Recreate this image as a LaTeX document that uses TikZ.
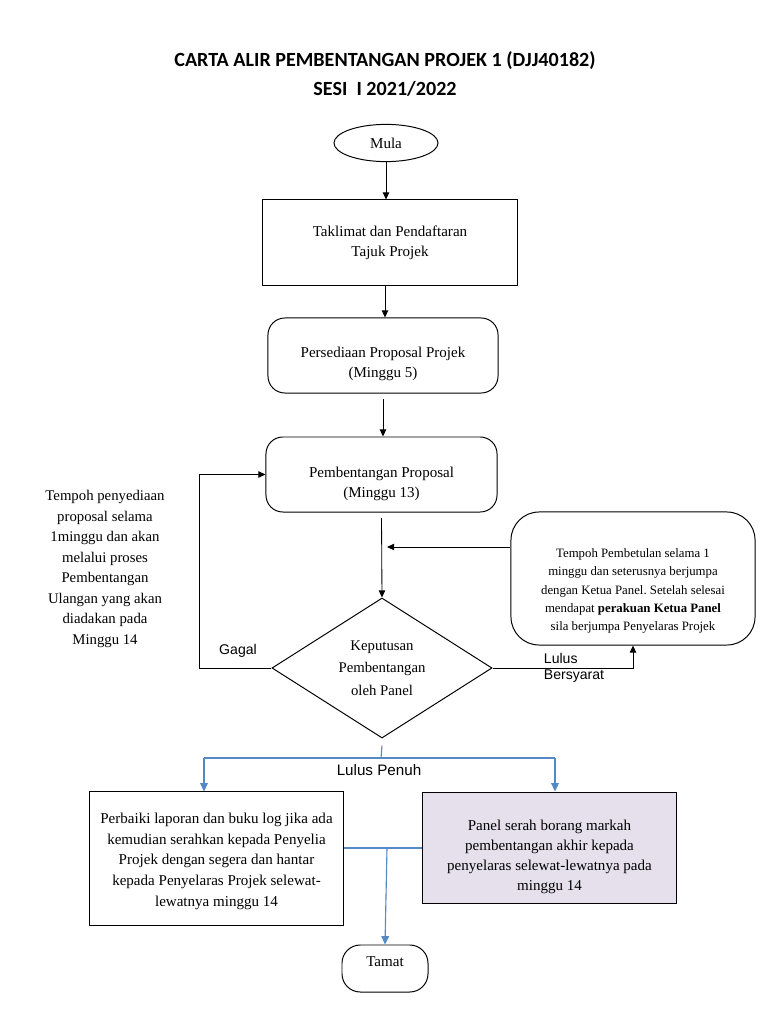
\documentclass[tikz,border=0pt]{standalone}
\usepackage{fontspec}
\setmainfont{Liberation Serif}
\newfontfamily\labelfont{Liberation Sans}
\newfontfamily\titlefont{Carlito}
\usetikzlibrary{shapes.geometric,arrows.meta}
\frenchspacing

\definecolor{flowblue}{RGB}{84,136,198}
\definecolor{lavender}{RGB}{229,224,236}

\tikzset{
    txt/.style={align=center, font=\fontsize{10.7}{14}\selectfont},
    plainbox/.style={draw, txt, line width=0.7pt},
    roundbox/.style={plainbox, rounded corners=12pt},
    link/.style={line width=0.6pt, -{Triangle[length=5pt,width=4.5pt]}},
    bluelink/.style={link, draw=flowblue, fill=flowblue, line width=0.8pt, -{Triangle[length=6pt,width=5.5pt]}},
    tag/.style={font=\labelfont\fontsize{10}{12}\selectfont}
}

\begin{document}
\begin{tikzpicture}[x=0.025cm, y=-0.025cm]
    \useasboundingbox (0,0) rectangle (768,1024);

    % Draw the title
    \node[font=\titlefont\bfseries\fontsize{14.3}{20}\selectfont, align=center] (title) at (385,74)
        {CARTA ALIR PEMBENTANGAN PROJEK 1 (DJJ40182)\\SESI\ \ I 2021/2022};

    % Draw main column
    \node[draw, ellipse, line width=0.7pt, minimum width=2.6cm, minimum height=0.93cm, txt] (mula) at (386,143) {Mula};
    \node[plainbox, minimum width=6.35cm, minimum height=2.125cm] (taklimat) at (390,242.5)
        {Taklimat dan Pendaftaran\\Tajuk Projek};
    \node[roundbox, minimum width=5.75cm, minimum height=1.875cm,
          label={[txt, yshift=-6pt]center:{Persediaan Proposal Projek\\(Minggu 5)}}] (persediaan) at (383,355.5) {};
    \node[roundbox, minimum width=5.775cm, minimum height=1.875cm,
          label={[txt, yshift=-6.5pt]center:{Pembentangan Proposal\\(Minggu 13)}}] (pembentangan) at (381.5,474.5) {};
    \node[draw, diamond, aspect=1.57, inner sep=0pt, line width=0.7pt, minimum width=5.5cm, minimum height=3.5cm,
          txt, font=\fontsize{10.5}{16}\selectfont] (keputusan) at (382,668)
        {Keputusan\\Pembentangan\\oleh Panel};

    % Draw side notes
    \node[txt, font=\fontsize{10.5}{14.6}\selectfont] (ulangan) at (105,569)
        {Tempoh penyediaan\\proposal selama\\1minggu dan akan\\melalui proses\\Pembentangan\\Ulangan yang akan\\diadakan pada\\Minggu 14};
    \node[roundbox, rounded corners=20pt, minimum width=6.1cm, minimum height=3.325cm,
          label={[txt, font=\fontsize{9.1}{13}\selectfont, yshift=-9pt]center:{Tempoh Pembetulan selama 1\\minggu dan seterusnya berjumpa\\dengan Ketua Panel. Setelah selesai\\mendapat \textbf{perakuan Ketua Panel}\\sila berjumpa Penyelaras Projek}}]
          (pembetulan) at (633,578.5) {};

    % Draw bottom boxes
    \node[plainbox, minimum width=6.325cm, minimum height=3.325cm,
          label={[txt, font=\fontsize{10.7}{14.8}\selectfont, yshift=-2pt]center:{Perbaiki laporan dan buku log jika ada\\kemudian serahkan kepada Penyelia\\Projek dengan segera dan hantar\\kepada Penyelaras Projek selewat-\\lewatnya minggu 14}}]
          (perbaiki) at (216.5,858.5) {};
    \node[plainbox, fill=lavender, minimum width=6.325cm, minimum height=2.775cm,
          label={[txt, font=\fontsize{10.7}{14.3}\selectfont, yshift=-6.5pt]center:{Panel serah borang markah\\pembentangan akhir kepada\\penyelaras selewat-lewatnya pada\\minggu 14}}]
          (panelserah) at (549.5,847.5) {};
    \node[plainbox, rounded corners=13pt, minimum width=2.15cm, minimum height=1.175cm, text depth=10pt] (tamat) at (385,968.5)
        {Tamat};

    % Draw connectors
    \coordinate (fix) at (387,547);
    \coordinate (split) at (381,758);
    \coordinate (lp) at (204,758);
    \coordinate (rp) at (555,758);
    \coordinate (join) at (387,848);

    \draw[link] (mula.south) -- (mula.south |- taklimat.north);
    \draw[link] (taklimat.south -| 385,0) -- (persediaan.north -| 385,0);
    \draw[link] ([yshift=-4pt]persediaan.south) -- (pembentangan.north -| 383,0);
    \draw[link] ([yshift=-4pt]pembentangan.south) -- (keputusan.north);
    \draw[link] (pembetulan.west |- fix) -- (fix);
    \draw[link] (keputusan.west) -- ++(-72,0) |- (pembentangan.west);
    \draw[link] (keputusan.east) -| (pembetulan.south);

    \draw[flowblue, line width=0.8pt] ([yshift=-5pt]keputusan.south) -- (split);
    \draw[flowblue, line width=0.8pt] (lp) -- (rp);
    \draw[bluelink] (lp) -- (lp |- perbaiki.north);
    \draw[bluelink] (rp) -- (rp |- panelserah.north);
    \draw[flowblue, line width=0.8pt] (perbaiki.east |- join) -- (panelserah.west |- join);
    \draw[bluelink] (join) -- (tamat.north);

    % Draw labels
    \node[tag] (gagal) at (238,651) {Gagal};
    \node[tag, anchor=west] (lulus) at (539,658) {Lulus};
    \node[tag, anchor=west] (bersyarat) at (539,676) {Bersyarat};
    \node[tag, font=\labelfont\fontsize{10.8}{12}\selectfont] (penuh) at (379,770) {Lulus Penuh};
\end{tikzpicture}
\end{document}
